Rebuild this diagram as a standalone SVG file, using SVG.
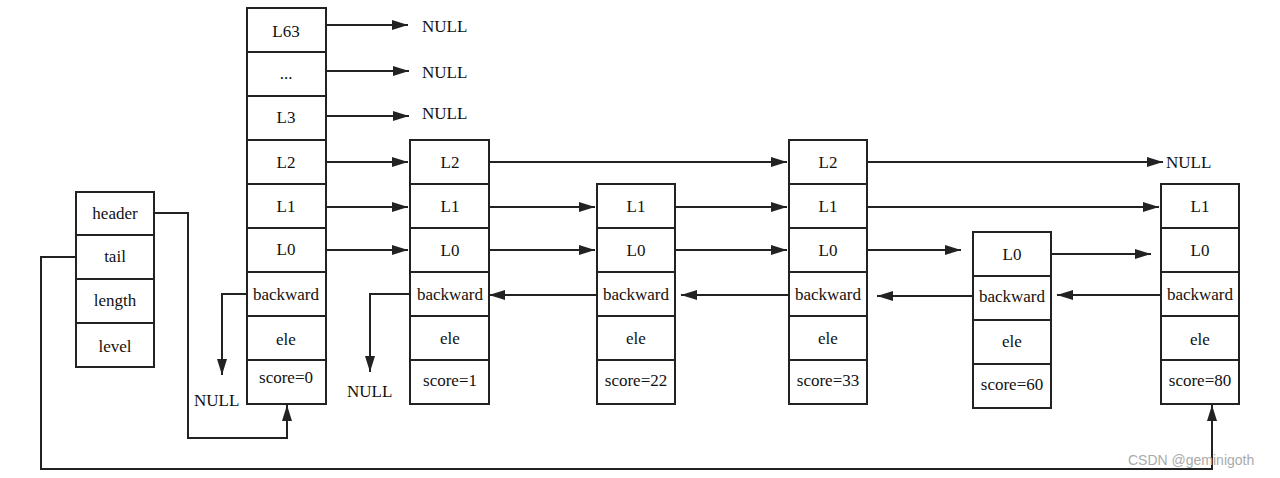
<svg xmlns="http://www.w3.org/2000/svg" width="1280" height="478" viewBox="0 0 1280 478">
<style>
.b{fill:#fff;stroke:#222;stroke-width:2}
.t{font-family:"Liberation Serif",serif;font-size:17px;fill:#111;text-anchor:middle}
.n{font-family:"Liberation Serif",serif;font-size:17px;fill:#111}
.c{fill:none;stroke:#222;stroke-width:2}
</style>
<defs><marker id="a" markerWidth="10" markerHeight="8" refX="10" refY="4" orient="auto" markerUnits="userSpaceOnUse"><path d="M0,0L10,4L0,8z" fill="#222"/></marker>
<marker id="a2" markerWidth="16" markerHeight="10" refX="16" refY="5" orient="auto" markerUnits="userSpaceOnUse"><path d="M0,0L16,5L0,10z" fill="#222"/></marker></defs>
<rect width="1280" height="478" fill="#fff"/>
<g id="zsl">
<rect class="b" x="76" y="192" width="78" height="175"/>
<path class="c" d="M76 235H154M76 279H154M76 323H154"/>
<text class="t" x="115" y="219">header</text><text class="t" x="115" y="262">tail</text><text class="t" x="115" y="306">length</text><text class="t" x="115" y="352">level</text>
</g>
<g id="head">
<rect class="b" x="247" y="8" width="79" height="396"/>
<path class="c" d="M247 52H326M247 96H326M247 140H326M247 184H326M247 228H326M247 272H326M247 316H326M247 360H326"/>
<text class="t" x="286" y="37">L63</text><text class="t" x="286" y="79">...</text><text class="t" x="286" y="123">L3</text><text class="t" x="286" y="168">L2</text><text class="t" x="286" y="212">L1</text><text class="t" x="286" y="255">L0</text><text class="t" x="286" y="300">backward</text><text class="t" x="286" y="345">ele</text><text class="t" x="286" y="383">score=0</text>
</g>
<g id="n1">
<rect class="b" x="410" y="140" width="79" height="264"/>
<path class="c" d="M410 184H489M410 228H489M410 272H489M410 316H489M410 360H489"/>
<text class="t" x="450" y="168">L2</text><text class="t" x="450" y="212">L1</text><text class="t" x="450" y="256">L0</text><text class="t" x="450" y="300">backward</text><text class="t" x="450" y="344">ele</text><text class="t" x="450" y="386">score=1</text>
</g>
<g id="n2">
<rect class="b" x="597" y="184" width="78" height="220"/>
<path class="c" d="M597 228H675M597 272H675M597 316H675M597 360H675"/>
<text class="t" x="636" y="212">L1</text><text class="t" x="636" y="256">L0</text><text class="t" x="636" y="300">backward</text><text class="t" x="636" y="344">ele</text><text class="t" x="636" y="386">score=22</text>
</g>
<g id="n3">
<rect class="b" x="789" y="140" width="78" height="264"/>
<path class="c" d="M789 184H867M789 228H867M789 272H867M789 316H867M789 360H867"/>
<text class="t" x="828" y="168">L2</text><text class="t" x="828" y="212">L1</text><text class="t" x="828" y="256">L0</text><text class="t" x="828" y="300">backward</text><text class="t" x="828" y="344">ele</text><text class="t" x="828" y="386">score=33</text>
</g>
<g id="n4">
<rect class="b" x="973" y="232" width="78" height="176"/>
<path class="c" d="M973 276H1051M973 320H1051M973 364H1051"/>
<text class="t" x="1012" y="260">L0</text><text class="t" x="1012" y="302">backward</text><text class="t" x="1012" y="347">ele</text><text class="t" x="1012" y="390">score=60</text>
</g>
<g id="n5">
<rect class="b" x="1161" y="184" width="78" height="220"/>
<path class="c" d="M1161 228H1239M1161 272H1239M1161 316H1239M1161 360H1239"/>
<text class="t" x="1200" y="212">L1</text><text class="t" x="1200" y="256">L0</text><text class="t" x="1200" y="300">backward</text><text class="t" x="1200" y="345">ele</text><text class="t" x="1200" y="386">score=80</text>
</g>
<g id="nulls">
<text class="n" x="422" y="32">NULL</text><text class="n" x="422" y="78">NULL</text><text class="n" x="422" y="119">NULL</text>
<text class="n" x="1166" y="168">NULL</text><text class="n" x="194" y="406">NULL</text><text class="n" x="347" y="397">NULL</text>
</g>
<g id="connectors" class="c">
<path class="c" d="M326 25H408" marker-end="url(#a2)"/>
<path class="c" d="M326 71H409" marker-end="url(#a2)"/>
<path class="c" d="M326 116H409" marker-end="url(#a2)"/>
<path class="c" d="M326 162H408" marker-end="url(#a2)"/>
<path class="c" d="M326 207H408" marker-end="url(#a2)"/>
<path class="c" d="M326 250H408" marker-end="url(#a2)"/>
<path class="c" d="M489 162H787" marker-end="url(#a2)"/>
<path class="c" d="M867 162H1163" marker-end="url(#a2)"/>
<path class="c" d="M489 207H595" marker-end="url(#a2)"/>
<path class="c" d="M675 207H787" marker-end="url(#a2)"/>
<path class="c" d="M867 207H1159" marker-end="url(#a2)"/>
<path class="c" d="M489 250H595" marker-end="url(#a2)"/>
<path class="c" d="M675 250H787" marker-end="url(#a2)"/>
<path class="c" d="M867 250H961" marker-end="url(#a2)"/>
<path class="c" d="M1051 254H1151" marker-end="url(#a2)"/>
<path class="c" d="M1161 295H1057" marker-end="url(#a2)"/>
<path class="c" d="M973 296H877" marker-end="url(#a2)"/>
<path class="c" d="M789 295H681" marker-end="url(#a2)"/>
<path class="c" d="M597 295H489" marker-end="url(#a2)"/>
<path class="c" d="M410 294H370V372" marker-end="url(#a2)"/>
<path class="c" d="M247 294H222V375" marker-end="url(#a2)"/>
<path class="c" d="M154 213H188V438H287V405" marker-end="url(#a2)"/>
<path class="c" d="M76 257H41V469H1212V405" marker-end="url(#a2)"/>
</g>
<text x="1128" y="465" font-family="Liberation Sans,sans-serif" font-size="14" fill="#aaa">CSDN @geminigoth</text>
</svg>
